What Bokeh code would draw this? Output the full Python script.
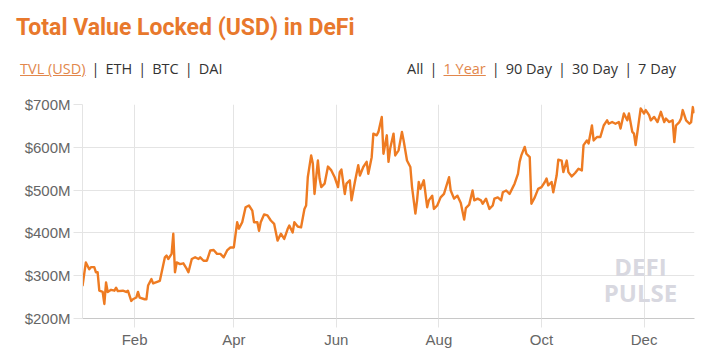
from bokeh.plotting import figure
from bokeh.models import Range1d, FixedTicker, PrintfTickFormatter, Label, Div
from bokeh.layouts import column
from bokeh.embed import file_html
from bokeh.resources import INLINE

# ---- data (day offset from 2019-01-01, TVL in $M) ----
days = [0, 2, 4, 5, 7, 8, 9, 10, 12, 13, 14, 15, 17, 19, 20, 21, 24, 26, 27, 29, 30, 32, 33, 34, 37, 38, 39, 41, 42, 44, 46,
        49, 50, 51, 53, 54, 55, 56, 58, 60, 62, 63, 65, 67, 69, 70, 72, 74, 76, 78, 80, 82, 84, 86, 88, 90,
        92, 93, 95, 97, 99, 101, 102, 104, 105, 106, 108, 110, 112, 114, 116, 118, 120, 122, 123, 125, 126, 128, 130,
        132, 133, 134, 136, 137, 138, 140, 141, 142, 144, 146, 148, 150, 152, 153, 154, 156, 157, 159, 160, 162, 164,
        165, 167, 169, 170, 172, 173, 175, 176, 178, 179, 181, 182, 183, 185, 186, 188, 190, 191, 193, 195, 196, 198,
        199, 200, 201, 203, 205, 206, 208, 209, 211, 213, 215, 218, 219, 221, 223, 225, 227, 228, 230, 232, 233, 235,
        237, 238, 240, 242, 244, 245, 247, 249, 250, 252, 254, 256, 257, 259, 260, 261, 263, 264, 266, 267, 269, 271,
        273, 275, 276, 277, 279, 280, 282, 283, 285, 286, 288, 289, 291, 293, 295, 297, 298, 300, 301, 303, 304, 306,
        308, 310, 312, 313, 315, 317, 319, 320, 322, 324, 325, 327, 328, 329, 331, 332, 334, 335, 337, 338, 340, 342,
        344, 346, 347, 349, 351, 352, 353, 355, 356, 357, 359, 361, 362, 363, 364]
tvl_musd = [276, 331, 315, 320, 320, 308, 308, 265, 262, 234, 284, 262, 267, 265, 272, 264, 265, 262, 265, 241, 245, 249, 262, 249, 245, 245, 277, 292, 282, 285, 288,
            343, 347, 339, 351, 398, 308, 331, 327, 329, 316, 308, 339, 343, 339, 343, 335, 335, 359, 360, 351, 351, 343, 359, 366, 366,
            425, 410, 425, 460, 464, 452, 425, 425, 405, 425, 443, 441, 429, 421, 382, 398, 386, 409, 417, 401, 425, 415, 413,
            456, 464, 530, 581, 562, 491, 569, 527, 507, 515, 555, 546, 530, 507, 542, 548, 491, 515, 523, 476, 519, 558,
            534, 554, 566, 538, 577, 632, 628, 636, 671, 585, 628, 566, 597, 632, 581, 593, 636, 616, 569, 554, 507, 445,
            476, 519, 503, 523, 460, 476, 487, 456, 464, 483, 491, 530, 499, 480, 487, 470, 431, 458, 466, 499, 476, 480,
            476, 468, 480, 456, 464, 480, 483, 476, 495, 499, 491, 507, 515, 538, 566, 581, 601, 585, 577, 468, 483, 503,
            507, 519, 527, 511, 519, 495, 534, 571, 569, 542, 569, 542, 532, 540, 550, 546, 605, 616, 609, 651, 616, 624,
            624, 651, 663, 655, 659, 655, 659, 644, 679, 663, 679, 636, 632, 605, 663, 691, 679, 687, 675, 663, 671, 659,
            683, 659, 667, 659, 663, 612, 651, 659, 667, 687, 663, 655, 659, 694, 680]

y_ticks = [200, 300, 400, 500, 600, 700]
x_tick_days = [31, 90, 151, 212, 273, 334]
x_tick_labels = ["Feb", "Apr", "Jun", "Aug", "Oct", "Dec"]
title_text = "Total Value Locked (USD) in DeFi"
unit_items = ["TVL (USD)", "ETH", "BTC", "DAI"]
span_items = ["All", "1 Year", "90 Day", "30 Day", "7 Day"]

# ---- layout ----
W, H = 707, 353
HEAD = 92                      # header height (Div)
FL, FR, FT, FB = 82, 694, 104, 318
ORANGE = "#ee7b22"
TITLE_OR = "#e8782c"
LINK_OR = "#e2874c"
GRID = "#e4e4e4"
FONT = "Open Sans"

# header (title + menus) as HTML text
sep = '<span style="color:#333;padding:0 6px">|</span>'


def item(t, active):
    if active:
        return f'<span style="color:{LINK_OR};text-decoration:underline">{t}</span>'
    return f'<span style="color:#333">{t}</span>'


units_html = sep.join(item(t, i == 0) for i, t in enumerate(unit_items))
spans_html = sep.join(item(t, t == "1 Year") for t in span_items)
html = (
    f'<div style="position:relative;width:{W}px;height:{HEAD}px;font-family:\'{FONT}\',sans-serif;">'
    f'<div style="position:absolute;left:16px;top:16px;font-family:Roboto,sans-serif;font-size:23px;'
    f'line-height:23px;font-weight:700;color:{TITLE_OR};white-space:nowrap">{title_text}</div>'
    f'<div style="position:absolute;left:20px;top:62px;font-size:14.5px;line-height:14.5px;white-space:nowrap">{units_html}</div>'
    f'<div style="position:absolute;right:{W - 676}px;top:62px;font-size:14.5px;line-height:14.5px;white-space:nowrap">{spans_html}</div>'
    '</div>'
)
header = Div(text=html, width=W, height=HEAD, margin=0)

p = figure(width=W, height=H - HEAD, output_backend="svg", toolbar_location=None, title=None,
           x_range=Range1d(0, 364), y_range=Range1d(200, 700),
           min_border_left=FL, min_border_right=W - FR, min_border_top=FT - HEAD, min_border_bottom=H - FB,
           margin=0)
p.outline_line_color = None
p.background_fill_color = "white"
p.border_fill_color = "white"

p.line(days, tvl_musd, line_color=ORANGE, line_width=2.4, line_join="round")

# axes
p.yaxis.ticker = FixedTicker(ticks=y_ticks)
p.yaxis.formatter = PrintfTickFormatter(format="$%dM")
p.xaxis.ticker = FixedTicker(ticks=x_tick_days)
p.xaxis.major_label_overrides = {d: lab for d, lab in zip(x_tick_days, x_tick_labels)}
for ax in (p.xaxis[0], p.yaxis[0]):
    ax.major_tick_in = 0
    ax.major_tick_out = 9
    ax.minor_tick_line_color = None
    ax.major_tick_line_color = GRID
    ax.major_label_text_font = "Liberation Sans"
    ax.major_label_text_font_size = "15px"
    ax.major_label_text_color = "#666666"
    ax.major_label_standoff = 3
p.yaxis.axis_line_color = GRID
p.xaxis.axis_line_color = "#c8c8c8"
p.xgrid.grid_line_color = GRID
p.ygrid.grid_line_color = GRID

# watermark (frame-relative screen units)
for txt, y in (("DEFI", 266), ("PULSE", 292)):
    p.add_layout(Label(x=640 - FL, y=FB - y, x_units="screen", y_units="screen", text=txt,
                       text_color="#d8d8e0", text_font=FONT, text_font_size="24px",
                       text_font_style="bold", text_align="center", text_baseline="middle"))

layout = column(header, p, spacing=0, margin=0)
open("out.html", "w").write(file_html(layout, INLINE))
